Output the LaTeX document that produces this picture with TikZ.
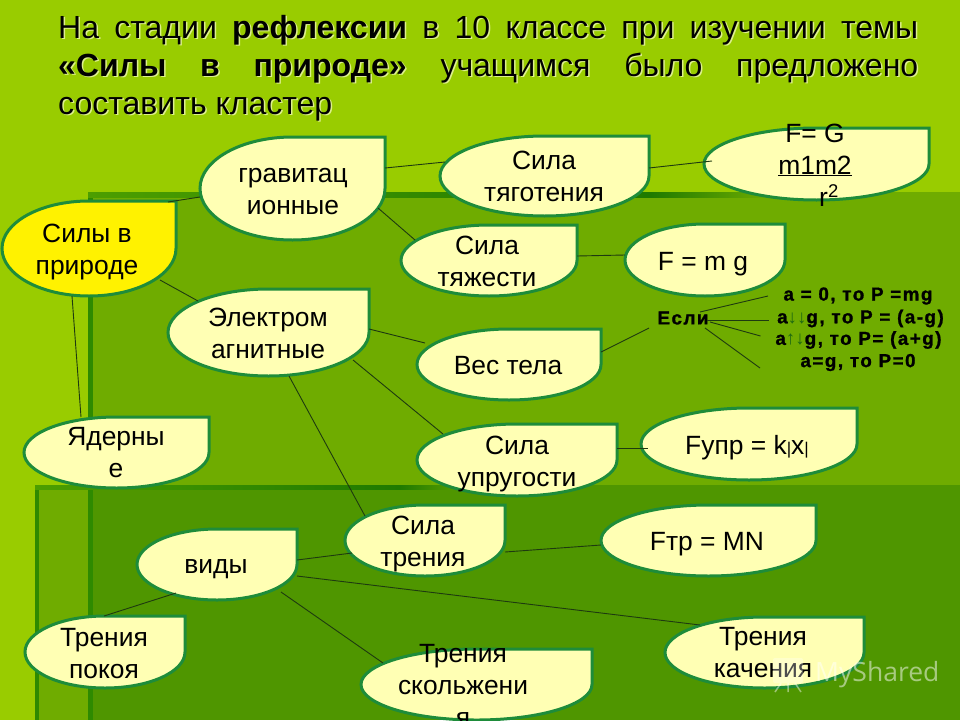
\documentclass[tikz,border=0pt]{standalone}
\usepackage{fontspec}
\setmainfont{Liberation Sans}
\newfontfamily\wmfont{Open Sans}
\newfontfamily\heavyfont[FakeBold=1.2,LetterSpace=8]{Liberation Sans Bold}
\newfontfamily\arrowfont{Liberation Sans}
\definecolor{bgA}{HTML}{99CC00}
\definecolor{bgB}{HTML}{6FAC00}
\definecolor{bgC}{HTML}{4F9600}
\definecolor{edgeA}{HTML}{2E8A00}
\definecolor{edgeL}{HTML}{4C9E00}
\definecolor{edgeD}{HTML}{1F7A00}
\definecolor{leafline}{HTML}{1E8C3A}
\definecolor{cream}{HTML}{FFFFB4}
\definecolor{conn}{HTML}{1E3A10}
\definecolor{arrowc}{HTML}{1F6A10}
\definecolor{shadowc}{HTML}{DDF08C}
\newcommand\titletext{На стадии \textbf{рефлексии} в 10 классе при изучении темы\linebreak \textbf{«Силы в природе»} учащимся было предложено составить кластер}
\tikzset{
  x=1pt,y=-1pt,
  leafshape/.style={draw=leafline,line width=3pt,line join=miter},
  boxnode/.style={inner sep=0pt,outer sep=0pt},
  label/.style={inner sep=0pt,align=center,text=black,font=\fontsize{26.4}{32}\selectfont},
  rule/.style={inner sep=0pt,font=\heavyfont\fontsize{18.8}{22}\selectfont,text=black},
  titlestyle/.style={inner sep=0pt,text width=860pt,align=justify,anchor=north west,font=\fontsize{32}{38}\selectfont},
  link/.style={draw=conn,line width=0.9pt}
}
% name, x0, y0, x1, y1, fill, text x, text y, text
\newcommand\leafnode[9]{%
  \pgfmathsetmacro\lfrx{(#4-#2)/2}%
  \pgfmathsetmacro\lfry{(#5-#3)/2}%
  \pgfmathsetmacro\lfcx{(#4+#2)/2}%
  \pgfmathsetmacro\lfcy{(#5+#3)/2}%
  \path[leafshape,fill=#6] (#2,\lfcy)
     arc[start angle=180,end angle=90,x radius=\lfrx pt,y radius=\lfry pt]
     -- (#4,#3) -- (#4,\lfcy)
     arc[start angle=0,end angle=-180,x radius=\lfrx pt,y radius=\lfry pt] -- cycle;
  \pgfmathsetmacro\lfw{#4-#2}%
  \pgfmathsetmacro\lfh{#5-#3}%
  \node[boxnode,minimum width=\lfw pt,minimum height=\lfh pt] (#1) at (\lfcx,\lfcy) {};
  \node[label] (#1-t) at (#7,#8) {#9};
}
\begin{document}
\begin{tikzpicture}
\useasboundingbox (0,0) rectangle (960,720);
\clip (0,0) rectangle (960,720);
% background
\fill[bgA] (0,0) rectangle (960,720);
\fill[bgB] (88,192) rectangle (960,720);
\fill[bgB] (35,485) rectangle (88,720);
\fill[bgC] (88,485) rectangle (960,720);
\fill[edgeA] (88,192) rectangle (93,720);
\shade[left color=edgeL,right color=edgeD] (88,192) rectangle (650,197);
\shade[left color=edgeD,right color=bgB] (650,192) rectangle (770,197);
\fill[edgeA] (35,485) rectangle (39,720);
\shade[left color=edgeL,right color=edgeD] (35,485) rectangle (400,489);
\shade[left color=edgeD,right color=bgB] (400,485) rectangle (480,489);
% title
\node[titlestyle,text=shadowc] (titleshadow) at (59.5,16.5) {\titletext};
\node[titlestyle,text=black] (title) at (58,15) {\titletext};
% leaves
\leafnode{sily}{2}{201}{176}{296}{yellow}{87}{252}{Силы в\\природе}
\leafnode{grav}{200}{137}{385}{240}{cream}{293}{191.5}{гравитац\\ионные}
\leafnode{tyag}{440}{136}{649}{216}{cream}{544}{176.5}{Сила\\тяготения}
\leafnode{fg}{704}{128}{929}{200}{cream}{815}{165}{F= G\\\underline{m1m2}\\\hspace*{28pt}r\textsuperscript{2}}
\leafnode{tyazh}{401}{225}{577}{296}{cream}{487}{261}{Сила\\тяжести}
\leafnode{fmg}{625}{224}{785}{296}{cream}{703}{264}{F = m g}
\leafnode{elek}{168}{289}{369}{376}{cream}{268}{333}{Электром\\агнитные}
\leafnode{ves}{417}{329}{601}{400}{cream}{508}{366}{Вес тела}
\leafnode{yad}{24}{417}{209}{488}{cream}{116}{452.5}{Ядерны\\е}
\leafnode{upr}{417}{424}{617}{496}{cream}{517}{464}{Сила\\упругости}
\leafnode{fupr}{641}{408}{857}{480}{cream}{747}{448}{Fупр = k{\fontsize{17}{17}\selectfont|}x{\fontsize{17}{17}\selectfont|}}
\leafnode{tren}{345}{505}{505}{576}{cream}{423}{544}{Сила\\трения}
\leafnode{ftr}{601}{505}{816}{576}{cream}{707}{544}{Fтр = MN}
\leafnode{vidy}{137}{529}{297}{600}{cream}{216}{569}{виды}
\leafnode{pok}{25}{616}{185}{688}{cream}{104}{654}{Трения\\покоя}
\leafnode{skol}{361}{649}{592}{720}{cream}{463}{685}{Трения\\скольжени\\я}
\leafnode{kach}{665}{617}{864}{688}{cream}{763}{653}{Трения\\качения}
% rule texts
\node[rule] (esli) at (683,318) {Если};
\node[rule] (r1) at (858,296) {а = 0, то Р =mg};
\node[rule] (r2) at (860.5,318.5) {а{\arrowfont\color{arrowc}↓↓}g, то Р = (a-g)};
\node[rule] (r3) at (858.5,340) {а{\arrowfont\color{arrowc}↑↓}g, то Р= (a+g)};
\node[rule] (r4) at (858,362.5) {а=g, то Р=0};
% connectors
\draw[link] ([shift={(166,1)}]sily.north west) -- ([shift={(0,60)}]grav.north west);
\draw[link] ([shift={(158,79)}]sily.north west) -- ([shift={(30,12)}]elek.north west);
\draw[link] ([shift={(70,95)}]sily.north west) -- ([shift={(57,0)}]yad.north west);
\draw[link] ([shift={(185,31)}]grav.north west) -- ([shift={(5,26)}]tyag.north west);
\draw[link] ([shift={(178,71)}]grav.north west) -- ([shift={(14,15)}]tyazh.north west);
\draw[link] ([shift={(209,32)}]tyag.north west) -- ([shift={(8,33)}]fg.north west);
\draw[link] ([shift={(176,31)}]tyazh.north west) -- ([shift={(0,31)}]fmg.north west);
\draw[link] ([shift={(201,40)}]elek.north west) -- ([shift={(8,14)}]ves.north west);
\draw[link] ([shift={(185,71)}]elek.north west) -- ([shift={(26,10)}]upr.north west);
\draw[link] ([shift={(121,87)}]elek.north west) -- ([shift={(20,11)}]tren.north west);
\draw[link] ([shift={(184,23)}]ves.north west) -- ([shift={(-34,10)}]esli.center);
\draw[link] ([shift={(200,24)}]upr.north west) -- ([shift={(7,40)}]fupr.north west);
\draw[link] ([shift={(17,-6)}]esli.center) -- ([shift={(-90,0)}]r1.center);
\draw[link] ([shift={(24,2)}]esli.center) -- ([shift={(-92,1.5)}]r2.center);
\draw[link] ([shift={(27,4)}]esli.center) -- ([shift={(-98,-4)}]r3.center);
\draw[link] ([shift={(22,10)}]esli.center) -- ([shift={(-98,5.5)}]r4.center);
\draw[link] ([shift={(160,47)}]tren.north west) -- ([shift={(0,40)}]ftr.north west);
\draw[link] ([shift={(160,31)}]vidy.north west) -- ([shift={(7,48)}]tren.north west);
\draw[link] ([shift={(160,47)}]vidy.north west) -- ([shift={(35,8)}]kach.north west);
\draw[link] ([shift={(144,63)}]vidy.north west) -- ([shift={(22,14)}]skol.north west);
\draw[link] ([shift={(39,64)}]vidy.north west) -- ([shift={(79,0)}]pok.north west);
% watermark
\fill[white,opacity=.3,rounded corners=2pt] (773,658) rectangle (803,683);
\draw[white,opacity=.45,line width=1.5pt] (788,683) -- (788,692) (781,683) -- (775,692) (795,683) -- (801,692);
\node[inner sep=0pt,text=white,text opacity=.5,font=\wmfont\fontsize{26.5}{30}\selectfont,anchor=west] (wm) at (815,675) {MyShared};
\end{tikzpicture}
\end{document}
